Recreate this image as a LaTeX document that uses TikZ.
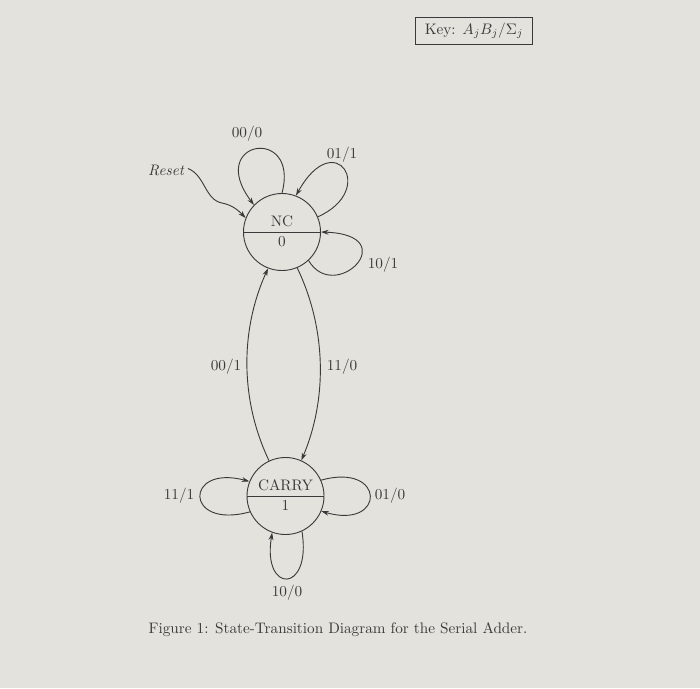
\documentclass[tikz,border=0pt]{standalone}
\usetikzlibrary{shapes.multipart,arrows.meta}
\definecolor{bg}{RGB}{228,226,220}
\definecolor{ink}{RGB}{58,58,58}
\begin{document}
\begin{tikzpicture}[x=0.657pt,y=-0.657pt,
  state/.style={circle split,draw=ink,line width=0.6pt,minimum size=50.6pt,inner sep=2.8pt,text=ink},
  lbl/.style={text=ink,inner sep=0pt},
  edge/.style={draw=ink,line width=0.6pt,-{Stealth[length=5pt,width=3.2pt]}}]
\fill[bg] (0,0) rectangle (700,688);
\useasboundingbox (0,0) rectangle (700,688);

\node[state] (nc) at (282,232) {NC \nodepart{lower} 0};
\node[state] (carry) at (285.5,496) {CARRY \nodepart{lower} 1};

\node[draw=ink,line width=0.5pt,text=ink,minimum width=77pt,minimum height=18pt,inner sep=2pt] (key) at (474,31) {Key: $A_jB_j/\Sigma_j$};
\node[lbl] (caption) at (338,630) {Figure 1: State-Transition Diagram for the Serial Adder.};

\node[lbl] (reset) at (166,170) {\itshape Reset};
\node[lbl] (l000) at (247,134) {00/0};
\node[lbl] (l011) at (342,155) {01/1};
\node[lbl] (l101) at (383,265) {10/1};
\node[lbl] (l001) at (226,367) {00/1};
\node[lbl] (l110) at (342,367) {11/0};
\node[lbl] (l111) at (179,496) {11/1};
\node[lbl] (l010) at (390,496) {01/0};
\node[lbl] (l100) at (287,593) {10/0};

% reset arrow
\draw[edge] ([xshift=2.5pt,yshift=1pt]reset.east) .. controls (205,175) and (205,200) .. (222,203)
  .. controls (232,205) and (238,210) .. (nc.159);

% NC loops
\draw[edge] (nc.90) .. controls (300,125) and (205,140) .. (nc.136);
\draw[edge] (nc.23) .. controls (378,190) and (335,125) .. (nc.69);
\draw[edge] (nc.-47) .. controls (335,305) and (405,235) .. (nc.0);

% transitions
\draw[edge] (carry.115) .. controls (240,400) and (240,330) .. (nc.-111);
\draw[edge] (nc.-67) .. controls (327,330) and (327,400) .. (carry.66);

% CARRY loops
\draw[edge] (carry.204) .. controls (184,530) and (184,464) .. (carry.158);
\draw[edge] (carry.24) .. controls (386,462) and (386,530) .. (carry.-23);
\draw[edge] (carry.-65) .. controls (312,594) and (262,594) .. (carry.-110);
\end{tikzpicture}
\end{document}
